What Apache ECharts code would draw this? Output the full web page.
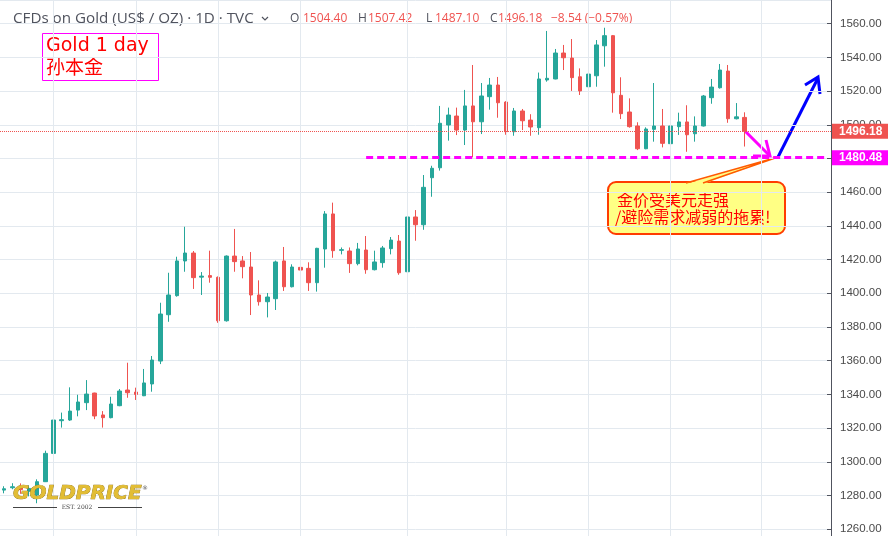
<!DOCTYPE html>
<html>
<head>
<meta charset="utf-8">
<title>Gold 1 day</title>
<script src="https://cdn.jsdelivr.net/npm/echarts@6/dist/echarts.min.js"></script>
<style>
  html, body { margin: 0; padding: 0; background: #fff; }
  #chart { width: 888px; height: 536px; }
</style>
</head>
<body>
<div id="chart"></div>
<script>
// TVC gold CFD, daily bars 2019-05-24 .. 2019-09-27
// rows are [open, close, low, high] (echarts candlestick order)
var ohlc = [
  [1283.2, 1284.0, 1281.3, 1285.5],
  [1284.6, 1285.2, 1283.7, 1287.3],
  [1285.2, 1283.5, 1281.0, 1287.2],
  [1282.5, 1284.2, 1279.5, 1286.0],
  [1280.3, 1288.2, 1275.4, 1289.6],
  [1288.2, 1305.0, 1288.0, 1306.6],
  [1305.0, 1324.8, 1304.6, 1328.8],
  [1324.4, 1325.0, 1320.3, 1329.2],
  [1324.8, 1330.1, 1324.3, 1344.2],
  [1330.7, 1335.5, 1327.0, 1339.8],
  [1335.1, 1340.2, 1330.7, 1348.5],
  [1340.8, 1327.2, 1325.3, 1341.0],
  [1327.8, 1326.2, 1320.3, 1330.1],
  [1326.2, 1334.3, 1325.8, 1338.6],
  [1333.3, 1342.0, 1333.0, 1343.2],
  [1342.6, 1341.0, 1338.0, 1358.8],
  [1341.4, 1340.0, 1336.7, 1344.0],
  [1339.2, 1346.8, 1339.0, 1355.1],
  [1346.2, 1360.4, 1341.6, 1362.8],
  [1359.8, 1387.7, 1358.0, 1394.4],
  [1387.3, 1399.0, 1383.1, 1412.2],
  [1398.6, 1419.2, 1398.0, 1421.7],
  [1419.2, 1423.9, 1412.8, 1439.5],
  [1423.9, 1409.3, 1402.6, 1425.1],
  [1409.6, 1410.2, 1399.0, 1412.6],
  [1410.5, 1409.5, 1406.3, 1425.3],
  [1409.5, 1383.7, 1382.5, 1410.0],
  [1383.7, 1422.1, 1383.2, 1422.5],
  [1422.1, 1418.8, 1412.8, 1438.2],
  [1419.2, 1415.8, 1408.9, 1422.1],
  [1415.6, 1399.0, 1387.1, 1424.5],
  [1399.0, 1395.0, 1392.7, 1407.7],
  [1395.0, 1397.8, 1385.7, 1400.2],
  [1396.8, 1418.6, 1390.1, 1419.4],
  [1419.2, 1403.9, 1401.4, 1427.5],
  [1403.9, 1415.6, 1403.5, 1417.2],
  [1415.4, 1413.8, 1407.9, 1420.4],
  [1414.8, 1406.3, 1401.4, 1418.4],
  [1406.3, 1426.7, 1401.0, 1427.0],
  [1426.3, 1447.1, 1415.2, 1448.8],
  [1447.1, 1425.3, 1421.1, 1453.8],
  [1425.5, 1425.9, 1423.1, 1427.2],
  [1425.1, 1417.6, 1412.1, 1427.2],
  [1417.6, 1426.3, 1416.6, 1429.9],
  [1425.7, 1414.0, 1411.6, 1434.0],
  [1414.0, 1418.6, 1413.6, 1425.3],
  [1418.2, 1426.9, 1415.2, 1428.1],
  [1426.5, 1431.6, 1423.1, 1433.4],
  [1431.0, 1412.2, 1411.0, 1434.6],
  [1412.8, 1445.3, 1401.0, 1446.3],
  [1445.3, 1440.7, 1431.2, 1449.4],
  [1440.7, 1462.9, 1437.7, 1470.2],
  [1468.6, 1474.2, 1457.3, 1475.7],
  [1474.5, 1500.9, 1472.8, 1511.2],
  [1499.9, 1505.8, 1490.6, 1510.2],
  [1505.2, 1496.9, 1493.9, 1510.2],
  [1496.9, 1511.2, 1488.0, 1520.7],
  [1511.2, 1501.8, 1480.7, 1535.5],
  [1501.8, 1517.1, 1494.5, 1524.8],
  [1516.7, 1523.6, 1509.0, 1527.8],
  [1523.6, 1513.1, 1504.2, 1528.4],
  [1513.5, 1495.9, 1494.1, 1514.0],
  [1495.9, 1508.2, 1493.5, 1510.0],
  [1508.2, 1502.4, 1496.9, 1509.4],
  [1502.8, 1498.7, 1493.5, 1506.3],
  [1498.3, 1527.2, 1494.1, 1531.0],
  [1526.6, 1527.6, 1525.6, 1555.7],
  [1527.2, 1542.6, 1527.0, 1545.0],
  [1542.6, 1539.8, 1532.5, 1547.4],
  [1539.6, 1528.0, 1520.1, 1550.9],
  [1528.5, 1520.1, 1517.7, 1533.5],
  [1522.6, 1530.1, 1520.2, 1534.9],
  [1529.1, 1547.4, 1522.6, 1550.3],
  [1546.9, 1552.9, 1534.5, 1557.6],
  [1552.9, 1519.0, 1507.2, 1553.3],
  [1517.5, 1506.6, 1503.4, 1528.2],
  [1507.6, 1498.9, 1498.3, 1515.7],
  [1499.3, 1485.8, 1485.0, 1501.5],
  [1485.8, 1497.5, 1485.5, 1498.5],
  [1497.3, 1499.3, 1490.0, 1524.8],
  [1499.3, 1489.0, 1486.6, 1509.4],
  [1488.8, 1499.3, 1488.5, 1499.8],
  [1498.9, 1501.7, 1494.0, 1507.2],
  [1501.7, 1494.1, 1484.0, 1511.6],
  [1494.7, 1499.3, 1490.0, 1505.0],
  [1499.3, 1517.1, 1499.0, 1517.7],
  [1516.1, 1522.4, 1512.5, 1527.2],
  [1522.0, 1532.5, 1521.5, 1536.1],
  [1531.9, 1503.6, 1501.2, 1535.5],
  [1503.6, 1504.72, 1503.2, 1512.9],
  [1504.40, 1496.18, 1487.10, 1507.42]
];

// weekday categories; 10 empty days are left after the last bar
var days = [];
var d = new Date(Date.UTC(2019, 4, 24));
while (days.length < 101) {
  var wd = d.getUTCDay();
  if (wd !== 0 && wd !== 6) days.push(d.toISOString().slice(0, 10));
  d.setUTCDate(d.getUTCDate() + 1);
}

// dates where the vertical grid lines sit
var gridDays = ['2019-06-03', '2019-06-17', '2019-07-01', '2019-07-15', '2019-08-01',
                '2019-08-19', '2019-09-02', '2019-09-16', '2019-10-01'];

var supportLevel = 1480.48;
var supportFrom = '2019-07-25';
var supportTo = '2019-10-11';

var yTop = 1574.07, yBottom = 1255.97, yStep = 20;

var up = '#26a69a', down = '#ef5350', gridColor = '#e3e9ef';

var last = ohlc[ohlc.length - 1];
var prevClose = ohlc[ohlc.length - 2][1];
var chg = last[1] - prevClose;
var chgPct = chg / prevClose * 100;
function minus(v) { return (v < 0 ? '\u2212' : '+') + Math.abs(v).toFixed(2); }

var chart = echarts.init(document.getElementById('chart'));

var headFont = '12px "Open Sans"';
var headPieces = [
  { t: 'O', x: 290, c: '#50535e' }, { t: last[0].toFixed(2), x: 303, c: down },
  { t: 'H', x: 358, c: '#50535e' }, { t: last[3].toFixed(2), x: 368, c: down },
  { t: 'L', x: 426, c: '#50535e' }, { t: last[2].toFixed(2), x: 435, c: down },
  { t: 'C', x: 490, c: '#50535e' }, { t: last[1].toFixed(2), x: 498, c: down },
  { t: minus(chg) + ' (' + minus(chgPct) + '%)', x: 551, c: down }
];

var graphics = [
  { type: 'text', x: 13, y: 19, style: { text: 'CFDs on Gold (US$ / OZ) \u00b7 1D \u00b7 TVC', fill: '#50535e', font: '15.2px "Open Sans"', verticalAlign: 'middle' } },
  { type: 'polyline', shape: { points: [[262, 17], [265, 20], [268, 17]] }, style: { stroke: '#50535e', lineWidth: 1.2, fill: null } }
];
headPieces.forEach(function (p) {
  graphics.push({ type: 'text', x: p.x, y: 19, style: { text: p.t, fill: p.c, font: headFont, verticalAlign: 'middle' } });
});

graphics = graphics.concat([
  // label box
  { type: 'rect', shape: { x: 42.5, y: 33.5, width: 116, height: 47 }, style: { fill: '#fff', stroke: '#ff00ff', lineWidth: 1 } },
  { type: 'text', x: 46, y: 46, style: { text: 'Gold 1 day', fill: '#ff0000', font: '19px "DejaVu Sans"', verticalAlign: 'middle' } },
  { type: 'text', x: 46, y: 67, style: { text: '孙本金', fill: '#ff0000', font: '19px "Noto Sans CJK SC"', verticalAlign: 'middle' } },

  // callout
  { type: 'rect', shape: { x: 608, y: 182, width: 177, height: 52, r: 8 }, style: { fill: '#ffff84', stroke: '#ff3c00', lineWidth: 2 } },
  { type: 'polygon', shape: { points: [[686, 184], [778, 157], [703, 184]] }, style: { fill: '#ffff84' } },
  { type: 'polyline', shape: { points: [[686, 183], [778, 157], [703, 183]] }, style: { stroke: '#ff5a00', lineWidth: 1.5, fill: null } },
  { type: 'text', x: 617, y: 200, style: { text: '金价受美元走强', fill: '#ff0000', font: '16px "Noto Sans CJK SC"', verticalAlign: 'middle' } },
  { type: 'text', x: 615, y: 217, style: { text: '/避险需求减弱的拖累!', fill: '#ff0000', font: '16px "Noto Sans CJK SC"', verticalAlign: 'middle' } },

  // arrows
  { type: 'polyline', shape: { points: [[745, 131], [770, 156]] }, style: { stroke: '#ff00ff', lineWidth: 3, fill: null } },
  { type: 'polyline', shape: { points: [[766, 140], [770, 156], [753, 156]] }, style: { stroke: '#ff00ff', lineWidth: 3, fill: null } },
  { type: 'polyline', shape: { points: [[778, 157], [818, 78]] }, style: { stroke: '#0000ff', lineWidth: 3, fill: null } },
  { type: 'polyline', shape: { points: [[805, 85], [818, 77], [820, 94]] }, style: { stroke: '#0000ff', lineWidth: 3, fill: null } },

  // watermark
  { type: 'text', x: 13, y: 494, z: 10, style: {
      text: 'GOLDPRICE', font: 'italic bold 20px "DejaVu Sans"', verticalAlign: 'middle',
      fill: '#e2bd34', stroke: '#8a6a08', lineWidth: 0.7 } },
  { type: 'text', x: 142, y: 488, z: 10, style: { text: '\u00ae', font: '6px "DejaVu Sans"', fill: '#555', verticalAlign: 'middle' } },
  { type: 'text', x: 77, y: 507, z: 10, style: { text: 'EST. 2002', font: '6px "DejaVu Serif"', fill: '#444', align: 'center', verticalAlign: 'middle' } },
  { type: 'line', z: 10, shape: { x1: 13, y1: 507.5, x2: 57, y2: 507.5 }, style: { stroke: '#444', lineWidth: 1 } },
  { type: 'line', z: 10, shape: { x1: 98, y1: 507.5, x2: 142, y2: 507.5 }, style: { stroke: '#444', lineWidth: 1 } }
]);

var option = {
  animation: false,
  backgroundColor: '#fff',
  grid: { left: 0, right: 57, top: 0, bottom: 0 },
  xAxis: {
    type: 'category',
    data: days,
    boundaryGap: true,
    axisLine: { show: false },
    axisTick: { show: false },
    axisLabel: { show: false },
    splitLine: { show: false }
  },
  yAxis: {
    type: 'value',
    position: 'right',
    scale: true,
    min: yBottom,
    max: yTop,
    splitNumber: 16,
    minInterval: yStep,
    maxInterval: yStep,
    axisLine: { show: true, lineStyle: { color: '#50535e' } },
    axisTick: { show: true, inside: true, length: 4, lineStyle: { color: '#50535e' } },
    axisLabel: {
      color: '#4a4a4a', fontSize: 11.5, fontFamily: 'Liberation Sans', margin: 9,
      showMinLabel: false, showMaxLabel: false,
      formatter: function (v) { return v.toFixed(2); }
    },
    splitLine: { lineStyle: { color: gridColor } }
  },
  series: [
    {
      type: 'line',
      data: [],
      z: 1,
      silent: true,
      markLine: {
        silent: true,
        symbol: ['none', 'none'],
        label: { show: false },
        lineStyle: { color: gridColor, type: 'solid', width: 1 },
        data: gridDays.map(function (g) { return { xAxis: g }; })
      }
    },
    {
      type: 'candlestick',
      data: ohlc,
      barWidth: 4,
      itemStyle: { color: up, color0: down, borderColor: up, borderColor0: down, borderWidth: 1 },
      markLine: {
        silent: true,
        symbol: ['none', 'none'],
        data: [
          {
            yAxis: last[1],
            lineStyle: { color: down, type: 'dotted', width: 1 },
            label: {
              show: true, position: 'end', distance: 1,
              formatter: last[1].toFixed(2),
              color: '#fff', backgroundColor: down, fontSize: 12, fontWeight: 'bold',
              fontFamily: 'Liberation Sans', padding: [2, 7, 1, 7]
            }
          },
          [
            {
              coord: [supportFrom, supportLevel],
              lineStyle: { color: '#ff00ff', type: [7, 4], width: 3 },
              label: {
                show: true, position: 'end', distance: 5,
                formatter: supportLevel.toFixed(2),
                color: '#fff', backgroundColor: '#ff00ff', fontSize: 12, fontWeight: 'bold',
                fontFamily: 'Liberation Sans', padding: [2, 7, 1, 7]
              }
            },
            { coord: [supportTo, supportLevel] }
          ]
        ]
      }
    }
  ],
  graphic: graphics
};

chart.setOption(option);
</script>
</body>
</html>
